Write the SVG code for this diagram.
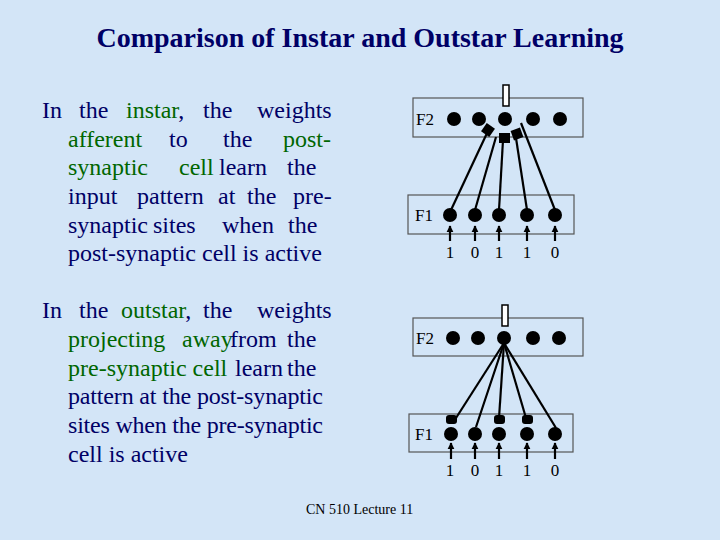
<svg xmlns="http://www.w3.org/2000/svg" width="720" height="540" viewBox="0 0 720 540" font-family="'Liberation Serif', 'Times New Roman', Times, serif">
<defs>
<style>
text{font-family:'Liberation Serif','Times New Roman',Times,serif}
.grn{fill:#006600}
.lbox{fill:none;stroke:#555;stroke-width:1.2}
.dot{fill:#000}
.bar{fill:#fff;stroke:#000;stroke-width:1.5}
.ln{stroke:#000;stroke-width:2.2;fill:none}
</style>
<marker id="ah" viewBox="0 0 10 10" refX="9" refY="5" markerWidth="3.2" markerHeight="3.2" orient="auto">
<path d="M0,0 L10,5 L0,10 z" fill="#000"/>
</marker>
</defs>
<rect width="720" height="540" fill="#d3e5f7"/>
<text font-size="28" font-weight="bold" fill="#000066" x="360" y="47" text-anchor="middle">Comparison of Instar and Outstar Learning</text>

<g id="instar-text" font-size="24" fill="#000066">
<text y="118"><tspan x="42">In</tspan><tspan x="79">the</tspan><tspan x="126" class="grn">instar</tspan><tspan>,</tspan><tspan x="203">the</tspan><tspan x="257">weights</tspan></text>
<text y="147"><tspan x="68" class="grn">afferent</tspan><tspan x="169">to</tspan><tspan x="223">the</tspan><tspan x="283" class="grn">post-</tspan></text>
<text y="175"><tspan x="68" class="grn">synaptic</tspan><tspan x="179" class="grn">cell</tspan><tspan x="219">learn</tspan><tspan x="287">the</tspan></text>
<text y="204"><tspan x="68">input</tspan><tspan x="137">pattern</tspan><tspan x="218">at</tspan><tspan x="247">the</tspan><tspan x="293">pre-</tspan></text>
<text y="233"><tspan x="68">synaptic</tspan><tspan x="153">sites</tspan><tspan x="222">when</tspan><tspan x="288">the</tspan></text>
<text y="261" x="68">post-synaptic cell is active</text>
</g>

<g id="outstar-text" font-size="24" fill="#000066">
<text y="318"><tspan x="42">In</tspan><tspan x="79">the</tspan><tspan x="121" class="grn">outstar</tspan><tspan>,</tspan><tspan x="203">the</tspan><tspan x="257">weights</tspan></text>
<text y="347"><tspan x="68" class="grn">projecting</tspan><tspan x="182" class="grn">away</tspan><tspan x="230">from</tspan><tspan x="287">the</tspan></text>
<text y="376"><tspan x="68" class="grn">pre-synaptic cell</tspan><tspan x="235">learn</tspan><tspan x="287">the</tspan></text>
<text y="404" x="68" textLength="255" lengthAdjust="spacing">pattern at the post-synaptic</text>
<text y="433" x="68" textLength="255" lengthAdjust="spacing">sites when the pre-synaptic</text>
<text y="462" x="68">cell is active</text>
</g>

<g id="instar-F2">
<rect class="lbox" x="413" y="98" width="170" height="39"/>
<text font-size="17" fill="#000" x="416" y="125">F2</text>
<rect class="bar" x="503" y="85" width="6" height="21"/>
<circle class="dot" cx="454" cy="119" r="7"/>
<circle class="dot" cx="479" cy="119" r="7"/>
<circle class="dot" cx="505" cy="119" r="7"/>
<circle class="dot" cx="533" cy="119" r="7"/>
<circle class="dot" cx="560" cy="119" r="7"/>
</g>
<g id="instar-F1">
<rect class="lbox" x="408" y="195" width="166" height="39"/>
<text font-size="17" fill="#000" x="415" y="221">F1</text>
<circle class="dot" cx="450" cy="215" r="7"/>
<circle class="dot" cx="475" cy="215" r="7"/>
<circle class="dot" cx="499" cy="215" r="7"/>
<circle class="dot" cx="527" cy="215" r="7"/>
<circle class="dot" cx="555" cy="215" r="7"/>
</g>
<g id="instar-connectors">
<line class="ln" x1="451" y1="210" x2="488" y2="131"/>
<line class="ln" x1="475" y1="210" x2="496" y2="137"/>
<line class="ln" x1="499" y1="210" x2="503" y2="140"/>
<line class="ln" x1="527" y1="210" x2="516" y2="138"/>
<line class="ln" x1="555" y1="210" x2="521" y2="123"/>
<rect class="dot" x="483" y="125" width="10" height="10" transform="rotate(35 488 130)"/>
<rect class="dot" x="499" y="133" width="11" height="10"/>
<rect class="dot" x="512" y="129" width="10" height="10" transform="rotate(-20 517 134)"/>
<line class="ln" x1="450" y1="241" x2="450" y2="226" marker-end="url(#ah)"/>
<line class="ln" x1="475" y1="241" x2="475" y2="226" marker-end="url(#ah)"/>
<line class="ln" x1="499" y1="241" x2="499" y2="226" marker-end="url(#ah)"/>
<line class="ln" x1="527" y1="241" x2="527" y2="226" marker-end="url(#ah)"/>
<line class="ln" x1="555" y1="241" x2="555" y2="226" marker-end="url(#ah)"/>
</g>
<g id="instar-inputs" font-size="17" fill="#000" text-anchor="middle">
<text x="450" y="258">1</text>
<text x="475" y="258">0</text>
<text x="499" y="258">1</text>
<text x="527" y="258">1</text>
<text x="555" y="258">0</text>
</g>

<g id="outstar-F2">
<rect class="lbox" x="413" y="318" width="170" height="38"/>
<text font-size="17" fill="#000" x="416" y="344">F2</text>
<rect class="bar" x="502" y="305" width="6" height="21"/>
<circle class="dot" cx="453" cy="338" r="7"/>
<circle class="dot" cx="478" cy="338" r="7"/>
<circle class="dot" cx="504" cy="338" r="7"/>
<circle class="dot" cx="533" cy="338" r="7"/>
<circle class="dot" cx="559" cy="338" r="7"/>
</g>
<g id="outstar-F1">
<rect class="lbox" x="409" y="414" width="164" height="38"/>
<text font-size="17" fill="#000" x="415" y="440">F1</text>
<circle class="dot" cx="451" cy="434" r="7"/>
<circle class="dot" cx="475" cy="434" r="7"/>
<circle class="dot" cx="499" cy="434" r="7"/>
<circle class="dot" cx="527" cy="434" r="7"/>
<circle class="dot" cx="555" cy="434" r="7"/>
</g>
<g id="outstar-connectors">
<line class="ln" x1="504" y1="343" x2="456" y2="418"/>
<line class="ln" x1="504" y1="343" x2="476" y2="427"/>
<line class="ln" x1="504" y1="343" x2="499" y2="418"/>
<line class="ln" x1="504" y1="343" x2="526" y2="418"/>
<line class="ln" x1="504" y1="343" x2="556" y2="428"/>
<rect class="dot" x="446" y="415" width="11" height="9" rx="3"/>
<rect class="dot" x="494" y="415" width="11" height="9" rx="3"/>
<rect class="dot" x="522" y="415" width="11" height="9" rx="3"/>
<line class="ln" x1="451" y1="459" x2="451" y2="443" marker-end="url(#ah)"/>
<line class="ln" x1="475" y1="459" x2="475" y2="443" marker-end="url(#ah)"/>
<line class="ln" x1="499" y1="459" x2="499" y2="443" marker-end="url(#ah)"/>
<line class="ln" x1="527" y1="459" x2="527" y2="443" marker-end="url(#ah)"/>
<line class="ln" x1="555" y1="459" x2="555" y2="443" marker-end="url(#ah)"/>
</g>
<g id="outstar-inputs" font-size="17" fill="#000" text-anchor="middle">
<text x="450" y="476">1</text>
<text x="475" y="476">0</text>
<text x="499" y="476">1</text>
<text x="527" y="476">1</text>
<text x="555" y="476">0</text>
</g>

<text font-size="14" fill="#000" x="306" y="514">CN 510 Lecture 11</text>
</svg>
